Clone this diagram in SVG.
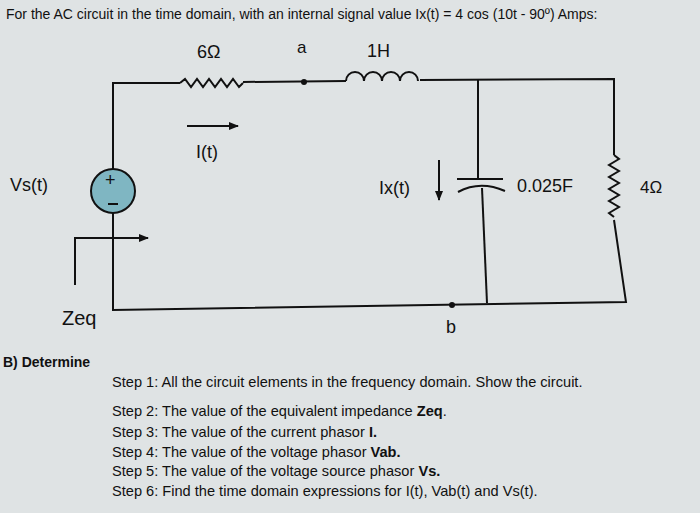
<svg xmlns="http://www.w3.org/2000/svg" width="700" height="513" viewBox="0 0 700 513">
<defs>
<marker id="ah" markerWidth="10" markerHeight="8" refX="9" refY="4" orient="auto" markerUnits="userSpaceOnUse"><path d="M0,0 L10,4 L0,8 Z" fill="#111"/></marker>
</defs>
<style>
.w{stroke:#111;stroke-width:2;fill:none}
.t{font-family:"Liberation Sans",Arial,sans-serif;fill:#111}
</style>
<rect width="700" height="513" fill="#dfe3e4"/>
<text class="t" x="6" y="19" font-size="14">For the AC circuit in the time domain, with an internal signal value Ix(t) = 4 cos (10t - 90º) Amps:</text>
<g id="connectors">
<path class="w" d="M113,169 L113,83 L180,83"/>
<path class="w" d="M243,82 L346,81"/>
<path class="w" d="M420,80 L614,79 L614,155"/>
<path class="w" d="M614,220 L626,302 L113,310 L113,213"/>
<path class="w" d="M478,80 L478,178"/>
<path class="w" d="M482,188 L487,303"/>
<path class="w" d="M187,126 L238,126" marker-end="url(#ah)"/>
<path class="w" d="M439,160 L439,200" marker-end="url(#ah)"/>
<path class="w" d="M75,285 L75,238 L148,238" marker-end="url(#ah)"/>
</g>
<g id="R6"><path class="w" stroke-width="1.5" d="M180,83 l5,-4 l6,8 l6,-8 l6,8 l6,-8 l6,8 l6,-8 l6,8 l6,-8 l6,8 l4,-4"/><text class="t" x="197" y="58" font-size="18">6Ω</text></g>
<g id="a"><circle cx="304" cy="82" r="3" fill="#111"/><text class="t" x="297" y="53" font-size="17">a</text></g>
<g id="L1"><path class="w" stroke-width="1.5" d="M346,81 a9,9 0 0 1 18,0 a9,9 0 0 1 18,0 a9,9 0 0 1 18,0 a9,9 0 0 1 18,0"/><text class="t" x="367" y="57" font-size="18">1H</text></g>
<g id="C"><path class="w" d="M457,179 L503,179"/><path class="w" d="M458,192 Q480,180 505,191"/><text class="t" x="517" y="192" font-size="18">0.025F</text></g>
<g id="R4"><path class="w" stroke-width="1.5" d="M614,155 l5,4 l-10,6 l10,6 l-10,6 l10,6 l-10,6 l10,6 l-10,6 l10,6 l-10,6 l5,4"/><text class="t" x="640" y="193" font-size="17">4Ω</text></g>
<g id="Vs"><circle cx="113" cy="191" r="22" fill="#7fb6c2" stroke="#111" stroke-width="2"/><text class="t" x="105" y="186" font-size="18">+</text><path d="M108,204 L118,204" stroke="#111" stroke-width="2"/><text class="t" x="10" y="191" font-size="18">Vs(t)</text></g>
<g id="b"><circle cx="452" cy="305" r="3" fill="#111"/><text class="t" x="446" y="333" font-size="18">b</text></g>
<text class="t" x="196" y="158" font-size="18">I(t)</text>
<text class="t" x="379" y="194" font-size="18">Ix(t)</text>
<text class="t" x="62" y="325" font-size="20">Zeq</text>
<text class="t" x="3" y="367" font-size="14" font-weight="bold">B) Determine</text>
<g class="t" font-size="14.6">
<text x="112" y="387">Step 1: All the circuit elements in the frequency domain. Show the circuit.</text>
<text x="112" y="416">Step 2: The value of the equivalent impedance <tspan font-weight="bold">Zeq</tspan>.</text>
<text x="112" y="437">Step 3: The value of the current phasor <tspan font-weight="bold">I.</tspan></text>
<text x="112" y="457">Step 4: The value of the voltage phasor <tspan font-weight="bold">Vab.</tspan></text>
<text x="112" y="476">Step 5: The value of the voltage source phasor <tspan font-weight="bold">Vs.</tspan></text>
<text x="112" y="496">Step 6: Find the time domain expressions for I(t), Vab(t) and Vs(t).</text>
</g>
</svg>
